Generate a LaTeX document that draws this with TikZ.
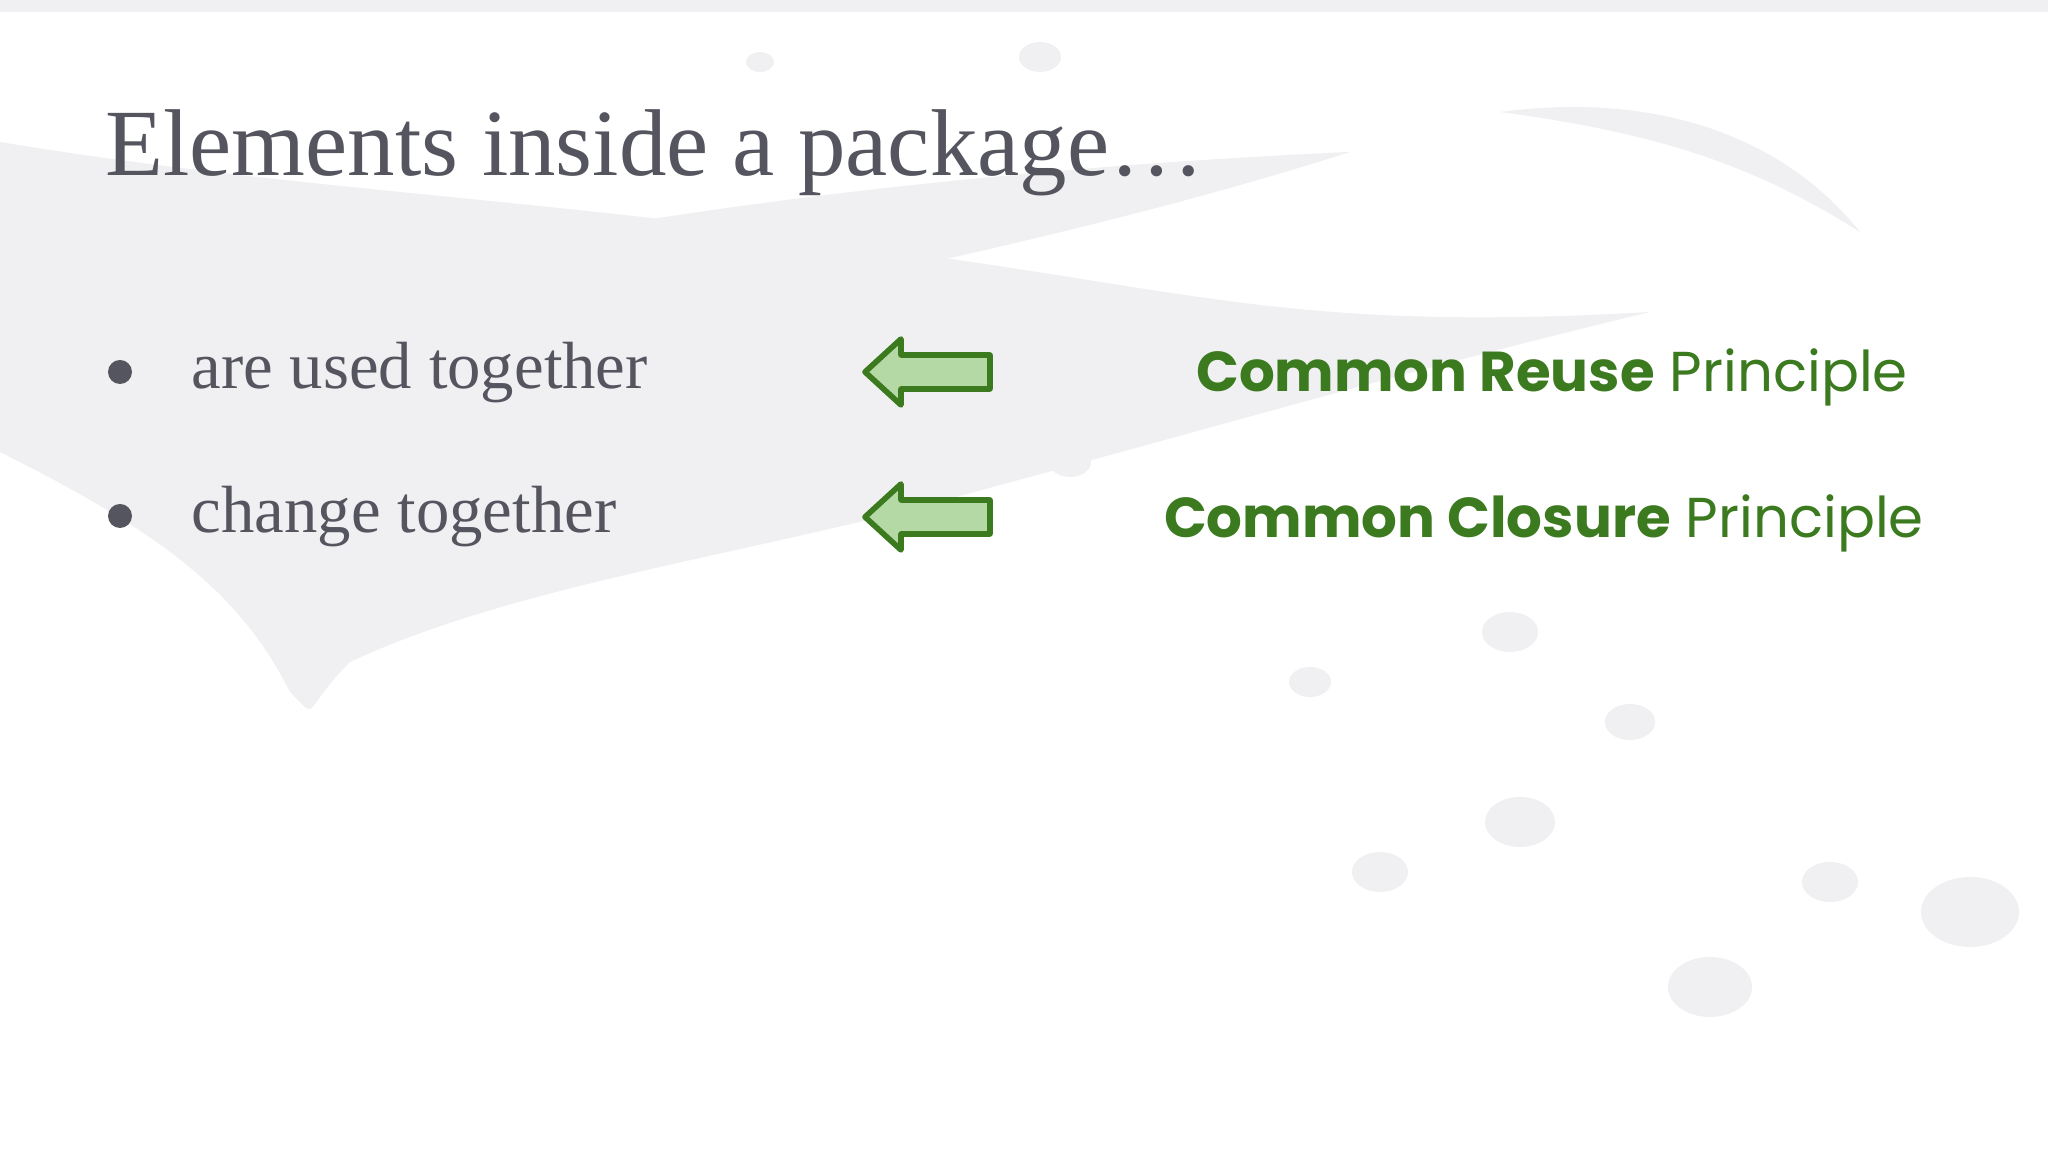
\documentclass[tikz,border=0pt]{standalone}
\usepackage{fontspec}
\setmainfont{Liberation Serif}
\newfontfamily\hand{Poppins}
\definecolor{txtgray}{HTML}{55555F}
\definecolor{dkgreen}{HTML}{3B7A1E}
\definecolor{ltgreen}{HTML}{B5D9A5}
\definecolor{splash}{HTML}{F0F0F2}
\tikzset{
  blob/.style={fill=splash,draw=none},
  bul/.style={anchor=base west,text=txtgray,font=\fontsize{19}{22}\selectfont,inner sep=0pt},
  prin/.style={anchor=base,text=dkgreen,font=\hand\fontsize{16}{19}\selectfont,inner sep=0pt},
  larrow/.style={draw=dkgreen,fill=ltgreen,line width=1.6pt,line join=round}
}
\begin{document}
\begin{tikzpicture}
\useasboundingbox (0,0) rectangle (20.48,11.52);
\fill[white] (0,0) rectangle (20.48,11.52);
\fill[splash] (0,11.40) rectangle (20.48,11.52);
% background brush splash
\path[blob] (0,10.1) .. controls (3,9.6) and (6,9.5) .. (9,9.0)
  .. controls (12,8.6) and (13,8.2) .. (16.5,8.4)
  .. controls (14,7.8) and (12,7.2) .. (9,6.4)
  .. controls (7,5.9) and (5,5.6) .. (3.5,4.9)
  .. controls (3,4.4) and (3.2,4.3) .. (2.9,4.6)
  .. controls (2.4,5.6) and (1.6,6.2) .. (0,7.0) -- cycle;
\path[blob] (2.5,8.5) .. controls (5,9.2) and (9,9.8) .. (13.5,10.0)
  .. controls (11,9.2) and (8,8.6) .. (5,8.0) -- cycle;
\path[blob] (15,10.4) .. controls (16.5,10.6) and (17.8,10.2) .. (18.6,9.2)
  .. controls (17.5,9.9) and (16.5,10.2) .. cycle;
\foreach \x/\y/\r in {10.4/10.95/0.15,7.6/10.9/0.1,15.1/5.2/0.2,15.2/3.3/0.25,18.3/2.7/0.2,19.7/2.4/0.35,17.1/1.65/0.3,13.8/2.8/0.2,16.3/4.3/0.18,13.1/4.7/0.15,10.7/6.9/0.15}
  \fill[splash] (\x,\y) ellipse ({\r*1.4} and \r);
% title
\node[anchor=base west,text=txtgray,font=\fontsize{27}{30}\selectfont,inner sep=0pt] (title) at (1.045,9.76) {Elements inside a package\ldots};
% bullets
\fill[txtgray] (1.20,7.80) circle (0.12) coordinate (d1);
\fill[txtgray] (1.20,6.36) circle (0.12) coordinate (d2);
\node[bul] (b1) at (1.91,7.63) {are used together};
\node[bul] (b2) at (1.91,6.19) {change together};
% arrows
\draw[larrow] (8.65,7.80) -- (9.01,8.13) -- (9.01,7.97) -- (9.90,7.97) -- (9.90,7.63) -- (9.01,7.63) -- (9.01,7.47) -- cycle;
\draw[larrow] (8.65,6.35) -- (9.01,6.68) -- (9.01,6.52) -- (9.90,6.52) -- (9.90,6.18) -- (9.01,6.18) -- (9.01,6.02) -- cycle;
% principles
\node[prin] (p1) at (15.52,7.60) {\textbf{Common Reuse} Principle};
\node[prin] (p2) at (15.44,6.14) {\textbf{Common Closure} Principle};
\end{tikzpicture}
\end{document}
